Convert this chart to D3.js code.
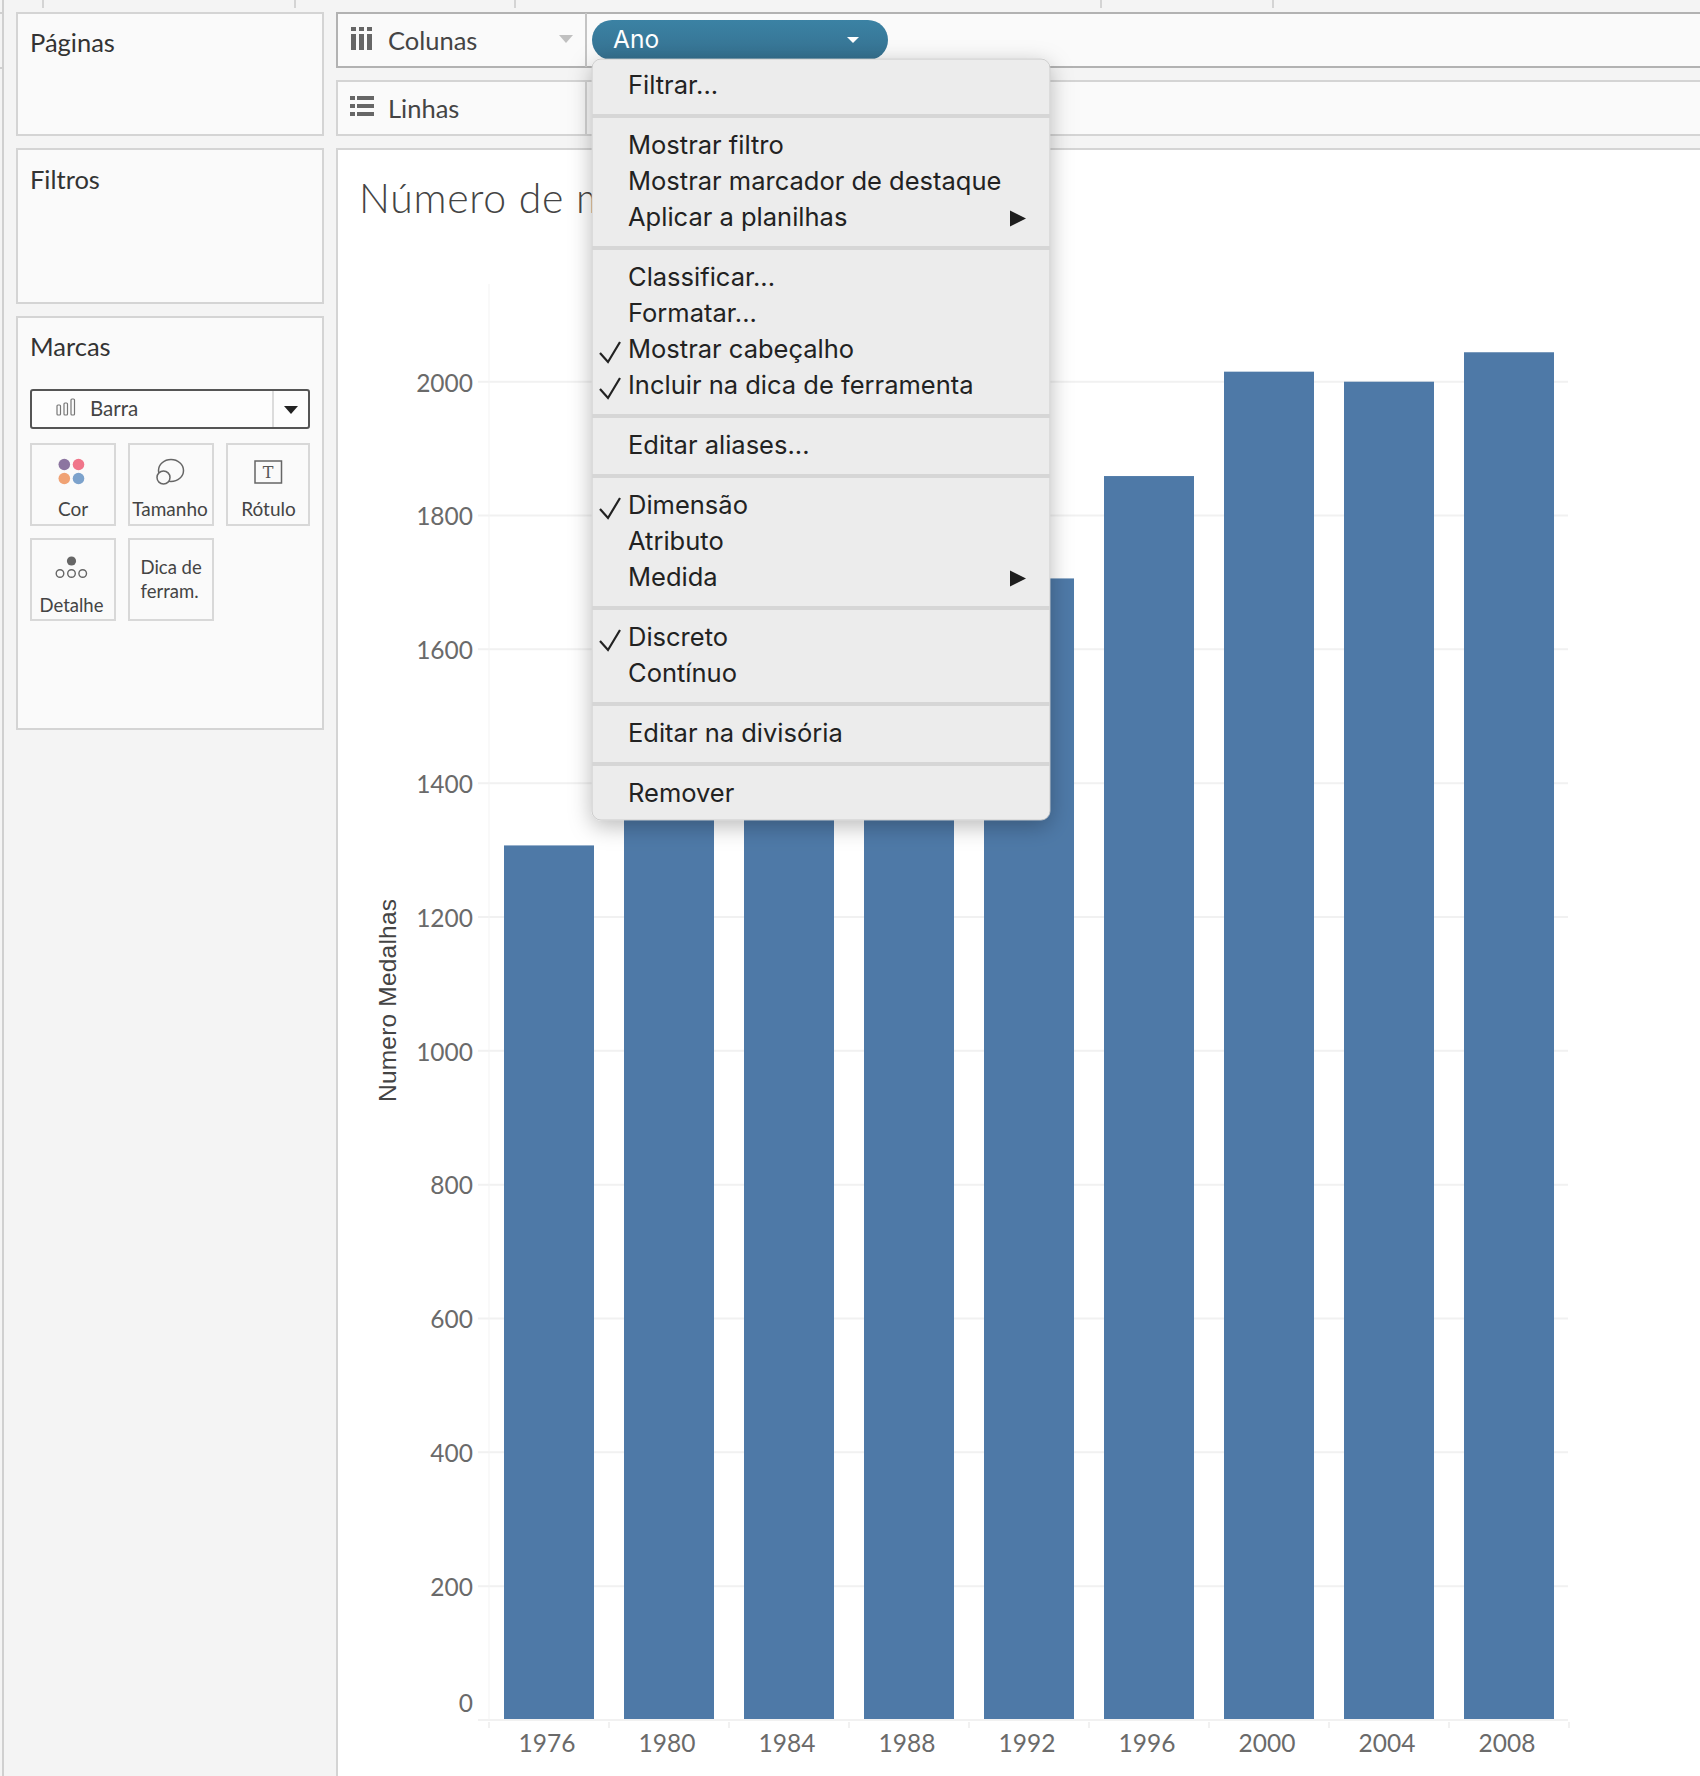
<!DOCTYPE html>
<html>
<head>
<meta charset="utf-8">
<script src="https://cdn.jsdelivr.net/npm/d3@7"></script>
<style>
  body { margin: 0; background: #f4f4f4; }
  svg { display: block; }
  text { font-family: Lato, "Open Sans", sans-serif; }
  .menu text { font-family: Inter, "Noto Sans", sans-serif; }
</style>
</head>
<body>
<div id="chart"></div>
<script>
// values (1980-1988 tops are hidden behind the open menu)
var years = ['1976', '1980', '1984', '1988', '1992', '1996', '2000', '2004', '2008'];
var medals = [1307, 1387, 1459, 1546, 1706, 1859, 2015, 2000, 2044];
var yTicks = [0, 200, 400, 600, 800, 1000, 1200, 1400, 1600, 1800, 2000];
var menuGroups = [
    [['Filtrar...']],
    [['Mostrar filtro'], ['Mostrar marcador de destaque'], ['Aplicar a planilhas', 'arrow']],
    [['Classificar...'], ['Formatar...'], ['Mostrar cabeçalho', 'check'], ['Incluir na dica de ferramenta', 'check']],
    [['Editar aliases...']],
    [['Dimensão', 'check'], ['Atributo'], ['Medida', 'arrow']],
    [['Discreto', 'check'], ['Contínuo']],
    [['Editar na divisória']],
    [['Remover']]
];

var W = 1700, H = 1776;
var svg = d3.select('#chart').append('svg').attr('width', W).attr('height', H);

var defs = svg.append('defs');
var shadow = defs.append('filter').attr('id', 'menuShadow')
    .attr('x', '-15%').attr('y', '-15%').attr('width', '130%').attr('height', '130%');
shadow.append('feDropShadow').attr('dx', 0).attr('dy', 6).attr('stdDeviation', 11)
    .attr('flood-color', '#000').attr('flood-opacity', 0.27);
var pillGrad = defs.append('linearGradient').attr('id', 'pillGrad')
    .attr('x1', 0).attr('x2', 0).attr('y1', 0).attr('y2', 1);
pillGrad.append('stop').attr('offset', '0%').attr('stop-color', '#3b82a4');
pillGrad.append('stop').attr('offset', '100%').attr('stop-color', '#35708f');

function box(g, x0, y0, x1, y1, stroke, fill) {
    return g.append('rect').attr('x', x0).attr('y', y0)
        .attr('width', x1 - x0).attr('height', y1 - y0)
        .attr('fill', fill || 'none').attr('stroke', stroke || 'none').attr('stroke-width', 2);
}
function label(g, x, y, s, size, color, anchor) {
    return g.append('text').attr('x', x).attr('y', y).text(s)
        .attr('font-size', size).attr('fill', color).attr('text-anchor', anchor || 'start');
}
function rule(g, x0, y0, x1, y1, color, w) {
    return g.append('line').attr('x1', x0).attr('y1', y0).attr('x2', x1).attr('y2', y1)
        .attr('stroke', color).attr('stroke-width', w || 2);
}

// ---- window chrome
var chrome = svg.append('g');
rule(chrome, 3, 0, 3, H, '#d0d0d0', 2);
rule(chrome, 0, 13, 2, 13, '#d0d0d0', 2);
rule(chrome, 0, 68, 2, 68, '#d0d0d0', 2);
[43, 295, 515, 1101, 1273].forEach(function (x) {
    rule(chrome, x, 0, x, 8, '#d4d4d4', 2);
});

// left cards
var panels = [['Páginas', 13, 135, 52], ['Filtros', 149, 303, 189], ['Marcas', 317, 729, 356]];
panels.forEach(function (p) {
    box(chrome, 17, p[1], 323, p[2], '#d4d4d4', '#fafafa');
    label(chrome, 30, p[3], p[0], 25.5, '#333');
});

// shelves
chrome.append('rect').attr('x', 337).attr('y', 13).attr('width', W).attr('height', 54).attr('fill', '#fafafa');
chrome.append('rect').attr('x', 337).attr('y', 81).attr('width', W).attr('height', 54).attr('fill', '#fafafa');
rule(chrome, 337, 13, W, 13, '#b2b2b2');
rule(chrome, 337, 67, W, 67, '#b2b2b2');
rule(chrome, 337, 12, 337, 68, '#b2b2b2');
rule(chrome, 586, 13, 586, 67, '#c4c4c4');
rule(chrome, 337, 81, W, 81, '#d4d4d4');
rule(chrome, 337, 135, W, 135, '#d4d4d4');
rule(chrome, 337, 80, 337, 136, '#d4d4d4');
rule(chrome, 586, 81, 586, 135, '#d4d4d4');
label(chrome, 388, 50, 'Colunas', 25.5, '#444');
label(chrome, 388, 118, 'Linhas', 25.5, '#444');
[351, 359, 367].forEach(function (x, i) {
    chrome.append('rect').attr('x', x).attr('y', 34).attr('width', 5).attr('height', 16).attr('fill', '#666');
    chrome.append('rect').attr('x', x).attr('y', 27).attr('width', 5).attr('height', 4).attr('fill', '#666');
});
[96, 104, 112].forEach(function (y) {
    chrome.append('rect').attr('x', 350).attr('y', y).attr('width', 5).attr('height', 4).attr('fill', '#666');
    chrome.append('rect').attr('x', 357).attr('y', y).attr('width', 17).attr('height', 4).attr('fill', '#666');
});
chrome.append('path').attr('d', 'M559,35 L573,35 L566,43 Z').attr('fill', '#c0c0c0');

// marks card controls
box(chrome, 31, 390, 309, 428, '#555', '#fdfdfd').attr('rx', 2);
rule(chrome, 273, 391, 273, 427, '#dcdcdc');
chrome.append('path').attr('d', 'M284,406 L298,406 L291,414 Z').attr('fill', '#222');
label(chrome, 90, 416, 'Barra', 20.5, '#444');
[[57, 405, 10], [64, 403, 12], [71, 399, 16]].forEach(function (b) {
    chrome.append('rect').attr('x', b[0]).attr('y', b[1]).attr('width', 3.5).attr('height', b[2])
        .attr('fill', 'none').attr('stroke', '#777').attr('stroke-width', 1.2).attr('rx', 1);
});

var tiles = [
    [31, 115, 444, 525], [129, 213, 444, 525], [227, 309, 444, 525],
    [31, 115, 539, 620], [129, 213, 539, 620]
];
tiles.forEach(function (t) { box(chrome, t[0], t[2], t[1], t[3], '#d8d8d8', '#fafafa'); });
label(chrome, 73, 516, 'Cor', 19, '#444', 'middle');
label(chrome, 170, 516, 'Tamanho', 19, '#444', 'middle');
label(chrome, 268.5, 516, 'Rótulo', 19, '#444', 'middle');
label(chrome, 71.5, 612, 'Detalhe', 18.5, '#444', 'middle');
label(chrome, 140.5, 574, 'Dica de', 18.5, '#444');
label(chrome, 140.5, 598, 'ferram.', 18.5, '#444');

[[64.3, 464.5, '#8c75a0'], [78.5, 464.5, '#f0758a'], [64.3, 478.5, '#f0a274'], [78.5, 478.5, '#7ca2cc']].forEach(function (d) {
    chrome.append('circle').attr('cx', d[0]).attr('cy', d[1]).attr('r', 5.8).attr('fill', d[2]);
});
chrome.append('ellipse').attr('cx', 171).attr('cy', 470.5).attr('rx', 12.5).attr('ry', 11)
    .attr('fill', 'none').attr('stroke', '#666').attr('stroke-width', 1.5);
chrome.append('circle').attr('cx', 163.5).attr('cy', 477.5).attr('r', 6.5)
    .attr('fill', '#fafafa').attr('stroke', '#666').attr('stroke-width', 1.5);
box(chrome, 255, 461, 281.5, 483, '#666').attr('stroke-width', 1.5);
chrome.append('text').attr('x', 268).attr('y', 478).text('T').attr('text-anchor', 'middle')
    .attr('font-size', 16).attr('fill', '#555').style('font-family', '"DejaVu Serif", serif');
chrome.append('circle').attr('cx', 71.5).attr('cy', 561).attr('r', 4.6).attr('fill', '#666');
[60, 71.5, 82.7].forEach(function (x) {
    chrome.append('circle').attr('cx', x).attr('cy', 573.5).attr('r', 3.8)
        .attr('fill', 'none').attr('stroke', '#666').attr('stroke-width', 1.4);
});

// ---- the chart itself
var plot = svg.append('g');
plot.append('rect').attr('x', 337).attr('y', 149).attr('width', W).attr('height', H).attr('fill', '#fff');
rule(plot, 337, 149, W, 149, '#d4d4d4');
rule(plot, 337, 148, 337, H, '#d4d4d4');
label(plot, 359, 213, 'Número de m', 41, '#444').style('font-weight', 300).style('letter-spacing', '0.7px');

var left = 489, right = 1569, yZero = 1720, yTop = 284;
var pxPerMedal = (1720 - 381.7) / 2000;

var x = d3.scaleBand().domain(years).range([left, right]).paddingInner(0.25).paddingOuter(0.125);
var y = d3.scaleLinear().domain([0, (yZero - yTop) / pxPerMedal]).range([yZero, yTop]);

// gridlines
plot.append('g').selectAll('line').data(yTicks).enter().append('line')
    .attr('x1', left - 11).attr('x2', right - 1)
    .attr('y1', function (d) { return y(d); }).attr('y2', function (d) { return y(d); })
    .attr('stroke', '#f1f1f1').attr('stroke-width', 2);
rule(plot, left, yTop, left, yZero, '#f3f3f3', 1);

// bars stop a pixel short of the baseline as in the reference
plot.append('g').selectAll('rect').data(years).enter().append('rect')
    .attr('x', function (d) { return x(d); })
    .attr('width', x.bandwidth())
    .attr('y', function (d, i) { return y(medals[i]); })
    .attr('height', function (d, i) { return yZero - 1 - y(medals[i]); })
    .attr('fill', '#4e79a7');

// axes
var yAxis = plot.append('g').attr('transform', 'translate(' + left + ',0)')
    .call(d3.axisLeft(y).tickValues(yTicks).tickFormat(d3.format('d')).tickSize(0).tickPadding(16));
yAxis.select('.domain').remove();
yAxis.selectAll('text').attr('font-size', 24.5).attr('fill', '#6a6a6a')
    .style('font-family', 'Lato, sans-serif')
    .attr('dy', function (d) { return d === 0 ? '-0.35em' : '0.38em'; });

var xAxis = plot.append('g').attr('transform', 'translate(0,' + yZero + ')')
    .call(d3.axisBottom(x).tickSize(0).tickPadding(0));
xAxis.select('.domain').remove();
xAxis.selectAll('text').attr('font-size', 24.5).attr('fill', '#6a6a6a')
    .style('font-family', 'Lato, sans-serif')
    .attr('x', -2).attr('y', 32).attr('dy', 0);

// little ticks on the band edges
plot.append('g').selectAll('line').data(d3.range(years.length + 1)).enter().append('line')
    .attr('x1', function (i) { return left + i * x.step(); })
    .attr('x2', function (i) { return left + i * x.step(); })
    .attr('y1', yZero + 2).attr('y2', yZero + 8)
    .attr('stroke', '#f1f1f1').attr('stroke-width', 2);

plot.append('text').attr('transform', 'translate(396,1102) rotate(-90)')
    .text('Numero Medalhas').attr('font-size', 24.5).attr('fill', '#444')
    .style('font-family', '"Liberation Sans", Arial, sans-serif').style('letter-spacing', '0.2px');

// ---- pill and the open context menu
var menu = svg.append('g').attr('class', 'menu');
menu.append('rect').attr('x', 592).attr('y', 20).attr('width', 296).attr('height', 40).attr('rx', 20)
    .attr('fill', 'url(#pillGrad)');
label(menu, 613, 48, 'Ano', 24.5, '#fff');
menu.append('path').attr('d', 'M847,37 L859,37 L853,43 Z').attr('fill', '#fff');

var menuLeft = 592, menuRight = 1050, menuTop = 59, rowH = 36, sepH = 4;
menu.append('rect').attr('x', menuLeft).attr('y', menuTop)
    .attr('width', menuRight - menuLeft).attr('height', 761).attr('rx', 9)
    .attr('fill', '#ececec').attr('stroke', '#c4c4c4').attr('stroke-width', 0.8)
    .attr('filter', 'url(#menuShadow)');

var rowY = menuTop - 1;
menuGroups.forEach(function (group, gi) {
    group.forEach(function (item, ri) {
        var baseline = rowY + rowH + ri * rowH;
        label(menu, 628, baseline, item[0], 25.5, '#222');
        if (item[1] === 'check') {
            menu.append('path').attr('fill', 'none').attr('stroke', '#222').attr('stroke-width', 2.2)
                .attr('d', 'M600,' + (baseline - 5) + ' L608,' + (baseline + 4) + ' L620,' + (baseline - 16));
        }
        if (item[1] === 'arrow') {
            menu.append('path').attr('fill', '#1e1e1e')
                .attr('d', 'M1010,' + (baseline - 15.5) + ' L1026,' + (baseline - 7.5) + ' L1010,' + (baseline + 0.5) + ' Z');
        }
    });
    rowY += group.length * rowH + 20;
    if (gi < menuGroups.length - 1) {
        menu.append('rect').attr('x', menuLeft).attr('y', rowY)
            .attr('width', menuRight - menuLeft).attr('height', sepH).attr('fill', '#d6d6d6');
        rowY += sepH;
    }
});
</script>
</body>
</html>
